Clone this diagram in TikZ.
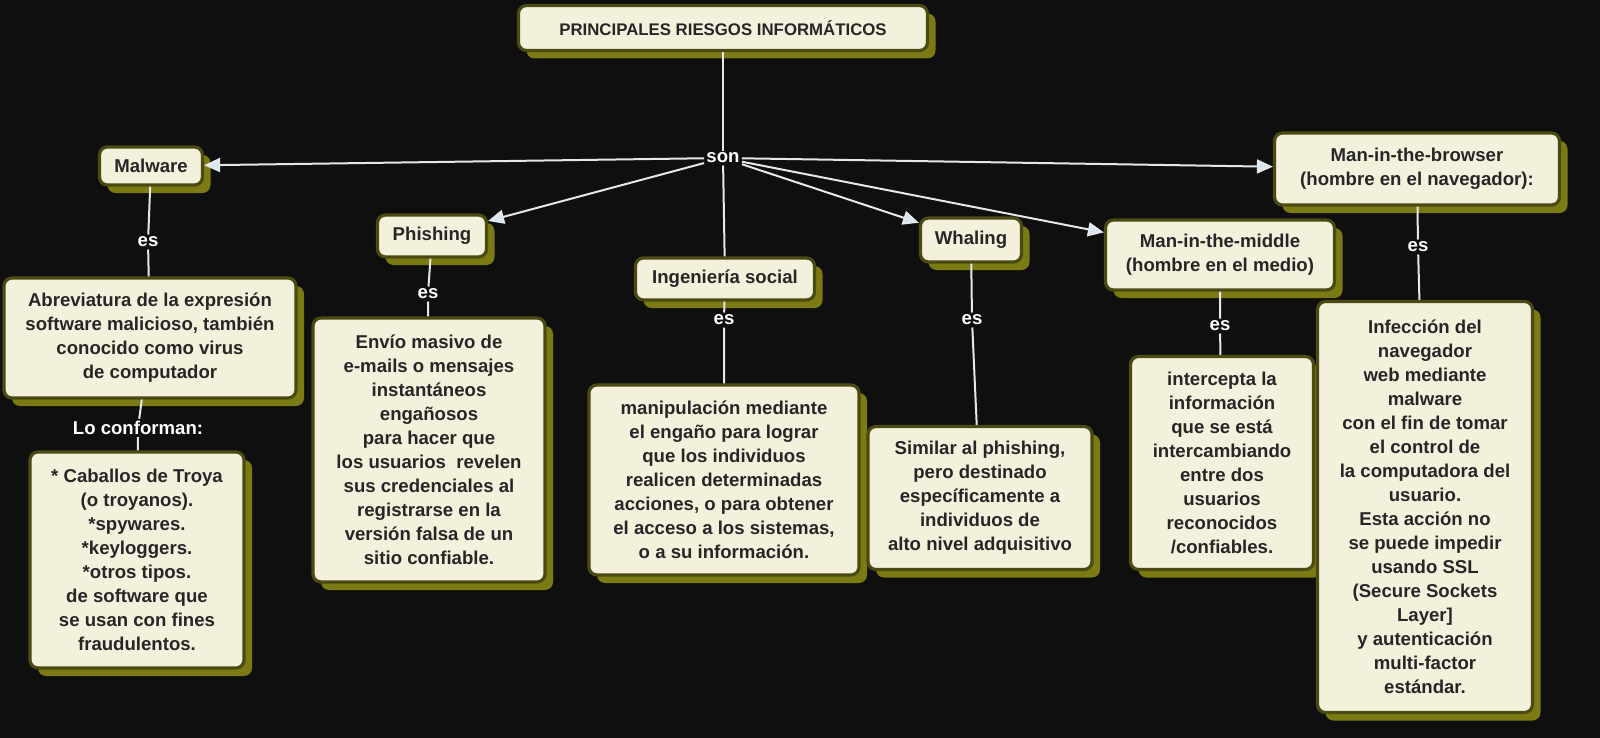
\documentclass[tikz,border=0pt]{standalone}
\usepackage{fontspec}
\setmainfont{Liberation Sans}
\usetikzlibrary{shadows,arrows.meta}
\definecolor{bg}{HTML}{0F0F0F}
\definecolor{cream}{HTML}{F3F1DC}
\definecolor{oliveb}{HTML}{4A4A12}
\definecolor{olives}{HTML}{7C7A12}
\definecolor{lnk}{HTML}{E4E8EC}
\definecolor{tip}{HTML}{D6E6F2}
\begin{document}
\begin{tikzpicture}[x=0.5pt,y=-0.5pt,
  box/.style={draw=oliveb,line width=1.6pt,fill=cream,rounded corners=4pt,align=center,
    font=\bfseries\fontsize{9.3}{12}\selectfont,text=black!85,inner sep=0pt,
    drop shadow={shadow xshift=4pt,shadow yshift=-4pt,fill=olives,opacity=1}},
  lab/.style={fill=bg,text=white,font=\bfseries\fontsize{9.3}{12}\selectfont,inner sep=1pt},
  ln/.style={draw=lnk,line width=1pt},
  ar/.style={ln,-{Triangle[width=7pt,length=8pt,fill=tip]}}]
\useasboundingbox (0,0) rectangle (1600,738);
\fill[bg] (0,0) rectangle (1600,738);
\node[box,minimum width=204.5pt,minimum height=22.5pt,font=\bfseries\fontsize{8.4}{11}\selectfont] (title) at (723,28) {PRINCIPALES RIESGOS INFORMÁTICOS};
\node[box,minimum width=51.5pt,minimum height=19pt] (mal) at (151,166) {Malware};
\node[box,minimum width=54.5pt,minimum height=21pt] (phi) at (432,236) {Phishing};
\node[box,minimum width=89.5pt,minimum height=21pt] (ing) at (725,279) {Ingeniería social};
\node[box,minimum width=50.5pt,minimum height=22pt] (wha) at (971,240) {Whaling};
\node[box,minimum width=114.5pt,minimum height=35pt] (mitm) at (1220,255) {Man-in-the-middle\\(hombre en el medio)};
\node[box,minimum width=142.5pt,minimum height=36pt] (mitb) at (1417,169) {Man-in-the-browser\\(hombre en el navegador):};
\node[box,minimum width=146pt,minimum height=60pt] (abr) at (150,338) {Abreviatura de la expresión\\software malicioso, también\\conocido como virus\\de computador};
\node[box,minimum width=107pt,minimum height=108pt] (cab) at (137,560) {* Caballos de Troya\\(o troyanos).\\*spywares.\\*keyloggers.\\*otros tipos.\\de software que\\se usan con fines\\fraudulentos.};
\node[box,minimum width=116pt,minimum height=132pt] (env) at (429,450) {Envío masivo de\\e-mails o mensajes\\instantáneos\\engañosos\\para hacer que\\los usuarios\ \ revelen\\sus credenciales al\\registrarse en la\\versión falsa de un\\sitio confiable.};
\node[box,minimum width=135pt,minimum height=95pt] (man) at (724,480) {manipulación mediante\\el engaño para lograr\\que los individuos\\realicen determinadas\\acciones, o para obtener\\el acceso a los sistemas,\\o a su información.};
\node[box,minimum width=112pt,minimum height=71.5pt] (sim) at (980,498) {Similar al phishing,\\pero destinado\\específicamente a\\individuos de\\alto nivel adquisitivo};
\node[box,minimum width=91.5pt,minimum height=106.5pt] (int) at (1222,463) {intercepta la\\información\\que se está\\intercambiando\\entre dos\\usuarios\\reconocidos\\/confiables.};
\node[box,minimum width=107.5pt,minimum height=205.5pt] (inf) at (1425,507) {Infección del\\navegador\\web mediante\\malware\\con el fin de tomar\\el control de\\la computadora del\\usuario.\\Esta acción no\\se puede impedir\\usando SSL\\(Secure Sockets\\Layer]\\y autenticación\\multi-factor\\estándar.};
\node[lab] (son) at (723,158) {son};
\node[lab] (es1) at (148,242) {es};
\node[lab] (es2) at (428,294) {es};
\node[lab] (es3) at (724,320) {es};
\node[lab] (es4) at (972,320) {es};
\node[lab] (es5) at (1220,326) {es};
\node[lab] (es6) at (1418,247) {es};
\node[lab] (lo) at (138,428) {Lo conforman:};
\draw[ln] (title) -- (son);
\draw[ar] (son) -- (mal);
\draw[ar] (son) -- (phi);
\draw[ln] (son) -- (ing);
\draw[ar] (son) -- (wha);
\draw[ar] (son) -- (mitm);
\draw[ar] (son) -- (mitb);
\draw[ln] (mal) -- (es1) -- (abr);
\draw[ln] (phi) -- (es2) -- (env);
\draw[ln] (ing) -- (es3) -- (man);
\draw[ln] (wha) -- (es4) -- (sim);
\draw[ln] (mitm) -- (es5) -- (int);
\draw[ln] (mitb) -- (es6) -- (inf);
\draw[ln] (abr) -- (lo) -- (cab);
\end{tikzpicture}
\end{document}
